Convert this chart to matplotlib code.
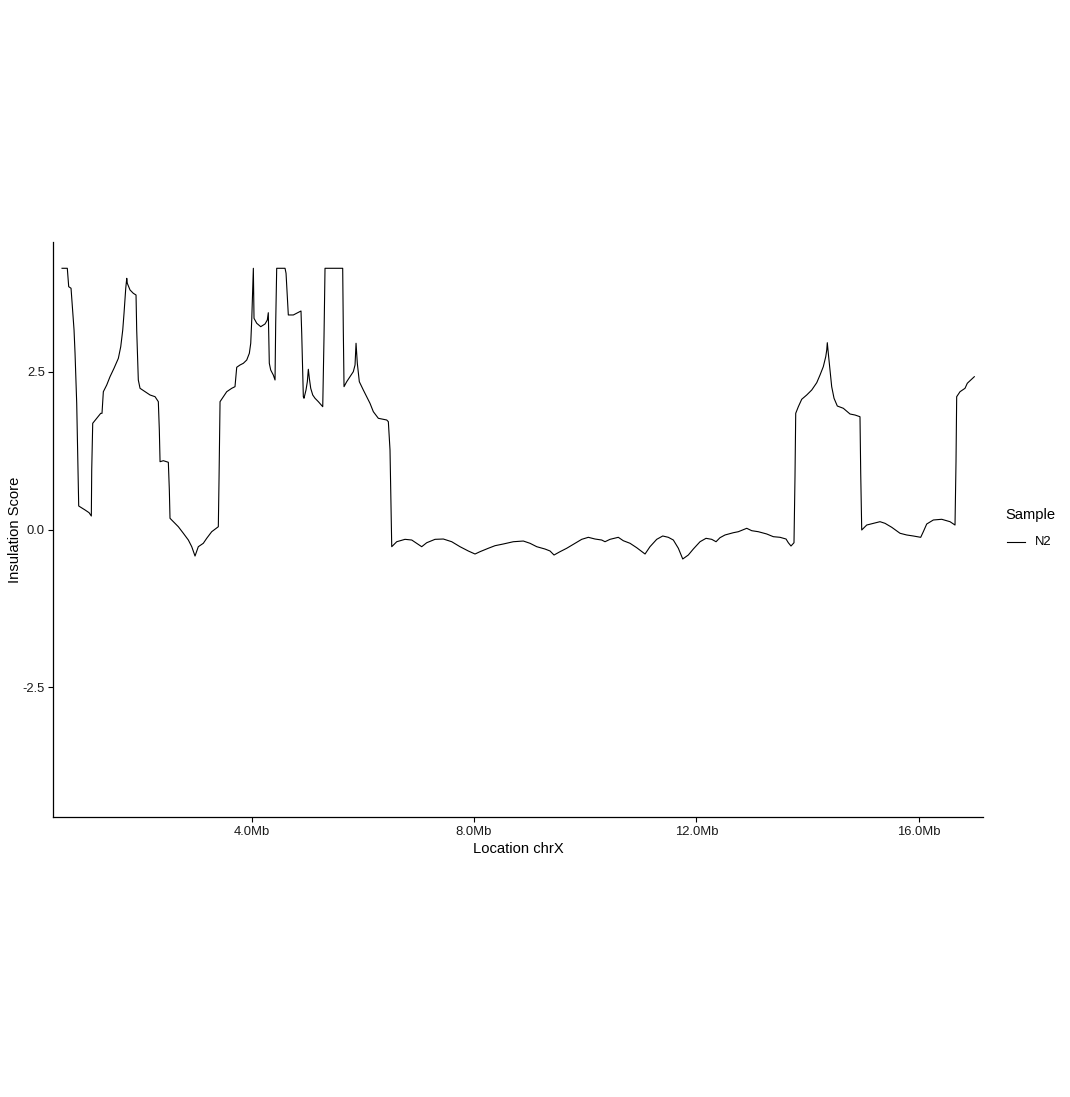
import matplotlib
matplotlib.use("Agg")
import matplotlib.pyplot as plt
from matplotlib.lines import Line2D
from matplotlib.ticker import FuncFormatter

plt.rcParams['font.family'] = ['Liberation Sans', 'DejaVu Sans']

# insulation score along chrX for sample N2 (position in Mb)
position_mb = [
    0.590, 0.685, 0.710, 0.752, 0.775, 0.806, 0.824, 0.854, 0.872, 0.890,
    1.004, 1.076, 1.117, 1.124, 1.142, 1.214, 1.286, 1.309, 1.333, 1.394,
    1.453, 1.525, 1.603, 1.646, 1.682, 1.705, 1.736, 1.754, 1.764, 1.813,
    1.872, 1.921, 1.933, 1.962, 1.993, 2.083, 2.173, 2.263, 2.322, 2.340,
    2.353, 2.412, 2.502, 2.520, 2.532, 2.592, 2.682, 2.772, 2.862, 2.923,
    2.982, 3.041, 3.131, 3.192, 3.282, 3.401, 3.414, 3.432, 3.491, 3.552,
    3.642, 3.701, 3.732, 3.791, 3.851, 3.912, 3.959, 3.984, 4.002, 4.020,
    4.031, 4.043, 4.092, 4.164, 4.241, 4.282, 4.300, 4.318, 4.343, 4.390,
    4.421, 4.433, 4.451, 4.601, 4.619, 4.642, 4.660, 4.750, 4.811, 4.888,
    4.901, 4.930, 4.942, 4.978, 5.002, 5.020, 5.038, 5.063, 5.099, 5.140,
    5.200, 5.279, 5.302, 5.320, 5.638, 5.649, 5.662, 5.710, 5.770, 5.829,
    5.860, 5.878, 5.901, 5.937, 6.009, 6.070, 6.129, 6.189, 6.279, 6.430,
    6.459, 6.489, 6.520, 6.610, 6.759, 6.880, 6.969, 7.059, 7.149, 7.299,
    7.448, 7.599, 7.748, 7.897, 8.018, 8.108, 8.257, 8.378, 8.527, 8.707,
    8.887, 9.007, 9.128, 9.277, 9.367, 9.439, 9.547, 9.667, 9.817, 9.937,
    10.056, 10.176, 10.297, 10.356, 10.446, 10.595, 10.685, 10.806, 10.926, 11.076,
    11.165, 11.286, 11.394, 11.495, 11.585, 11.675, 11.754, 11.854, 11.944, 12.065,
    12.173, 12.275, 12.353, 12.424, 12.514, 12.664, 12.754, 12.905, 12.995, 13.113,
    13.264, 13.383, 13.504, 13.612, 13.653, 13.701, 13.755, 13.773, 13.786, 13.833,
    13.894, 13.984, 14.074, 14.164, 14.223, 14.282, 14.326, 14.344, 14.354, 14.372,
    14.403, 14.433, 14.475, 14.534, 14.642, 14.763, 14.853, 14.942, 14.955, 14.973,
    15.063, 15.182, 15.302, 15.392, 15.513, 15.662, 15.782, 15.901, 16.034, 16.081,
    16.142, 16.261, 16.412, 16.561, 16.651, 16.669, 16.681, 16.741, 16.831, 16.872,
    16.921, 16.998,
]
insulation_score = [
    4.146, 4.146, 3.854, 3.829, 3.537, 3.167, 2.797, 2.003, 1.156, 0.373,
    0.310, 0.267, 0.214, 0.944, 1.686, 1.765, 1.844, 1.844, 2.187, 2.294,
    2.425, 2.559, 2.717, 2.902, 3.167, 3.432, 3.829, 3.987, 3.908, 3.802,
    3.749, 3.722, 3.167, 2.373, 2.241, 2.187, 2.135, 2.108, 2.029, 1.579,
    1.076, 1.092, 1.067, 0.627, 0.178, 0.124, 0.044, -0.060, -0.167, -0.273,
    -0.421, -0.273, -0.219, -0.140, -0.035, 0.044, 0.813, 2.029, 2.108, 2.187,
    2.241, 2.267, 2.575, 2.611, 2.638, 2.690, 2.797, 2.956, 3.325, 3.854,
    4.146, 3.352, 3.273, 3.219, 3.262, 3.325, 3.441, 2.638, 2.532, 2.452,
    2.373, 3.273, 4.146, 4.146, 4.067, 3.695, 3.405, 3.405, 3.432, 3.468,
    3.114, 2.108, 2.083, 2.214, 2.346, 2.543, 2.400, 2.241, 2.135, 2.083,
    2.029, 1.949, 3.060, 4.146, 4.146, 3.167, 2.267, 2.346, 2.425, 2.505,
    2.611, 2.956, 2.638, 2.346, 2.214, 2.108, 2.003, 1.870, 1.765, 1.738,
    1.711, 1.262, -0.273, -0.194, -0.156, -0.167, -0.219, -0.273, -0.210, -0.156,
    -0.151, -0.194, -0.273, -0.341, -0.389, -0.352, -0.298, -0.257, -0.230, -0.194,
    -0.183, -0.219, -0.273, -0.310, -0.341, -0.405, -0.352, -0.298, -0.219, -0.156,
    -0.124, -0.151, -0.167, -0.194, -0.156, -0.124, -0.178, -0.219, -0.289, -0.389,
    -0.273, -0.156, -0.103, -0.124, -0.167, -0.298, -0.468, -0.405, -0.310, -0.194,
    -0.140, -0.156, -0.194, -0.130, -0.087, -0.051, -0.035, 0.019, -0.019, -0.035,
    -0.071, -0.114, -0.124, -0.151, -0.210, -0.262, -0.210, 0.838, 1.844, 1.949,
    2.067, 2.135, 2.214, 2.330, 2.452, 2.584, 2.743, 2.849, 2.965, 2.797,
    2.532, 2.267, 2.083, 1.960, 1.924, 1.833, 1.817, 1.790, 0.892, -0.008,
    0.071, 0.098, 0.124, 0.098, 0.035, -0.060, -0.087, -0.103, -0.124, -0.035,
    0.087, 0.151, 0.162, 0.124, 0.071, 1.076, 2.108, 2.187, 2.241, 2.321,
    2.362, 2.425,
]

x_ticks = [4.0, 8.0, 12.0, 16.0]
y_ticks = [-2.5, 0.0, 2.5]
sample_name = 'N2'

W, H = 1070, 1097
fig = plt.figure(figsize=(W / 100, H / 100), dpi=100)
ax = fig.add_axes([53.3 / W, 1 - 817.3 / H, (982.7 - 53.3) / W, (817.3 - 241.7) / H])

ax.plot(position_mb, insulation_score, color='black', linewidth=0.8)

ax.set_xlim(0.433, 17.149)
ax.set_ylim(-4.568, 4.568)
ax.set_xticks(x_ticks)
ax.set_yticks(y_ticks)
ax.xaxis.set_major_formatter(FuncFormatter(lambda v, p: '{:.1f}Mb'.format(v)))
ax.yaxis.set_major_formatter(FuncFormatter(lambda v, p: '{:.1f}'.format(v)))

for side in ['top', 'right']:
    ax.spines[side].set_visible(False)
for side in ['left', 'bottom']:
    ax.spines[side].set_linewidth(0.9)
    ax.spines[side].set_color('black')
ax.tick_params(length=3.5, width=0.8, color='black', labelsize=9.4,
               labelcolor='#1a1a1a', pad=2.5)

ax.set_xlabel('Location chrX', fontsize=10.6, labelpad=3)
ax.set_ylabel('Insulation Score', fontsize=10.6, va='center')
ax.yaxis.set_label_coords((15 - 53.3) / (982.7 - 53.3), 0.5)

# legend drawn by hand in figure coordinates
fig.text(1005 / W, 1 - 515 / H, 'Sample', fontsize=10.6, ha='left', va='center')
fig.add_artist(Line2D([1007 / W, 1025 / W], [1 - 542 / H, 1 - 542 / H],
                      color='black', linewidth=0.8))
fig.text(1035 / W, 1 - 542 / H, sample_name, fontsize=9.4, ha='left', va='center')

fig.savefig('out.png', dpi=100, facecolor='white')
